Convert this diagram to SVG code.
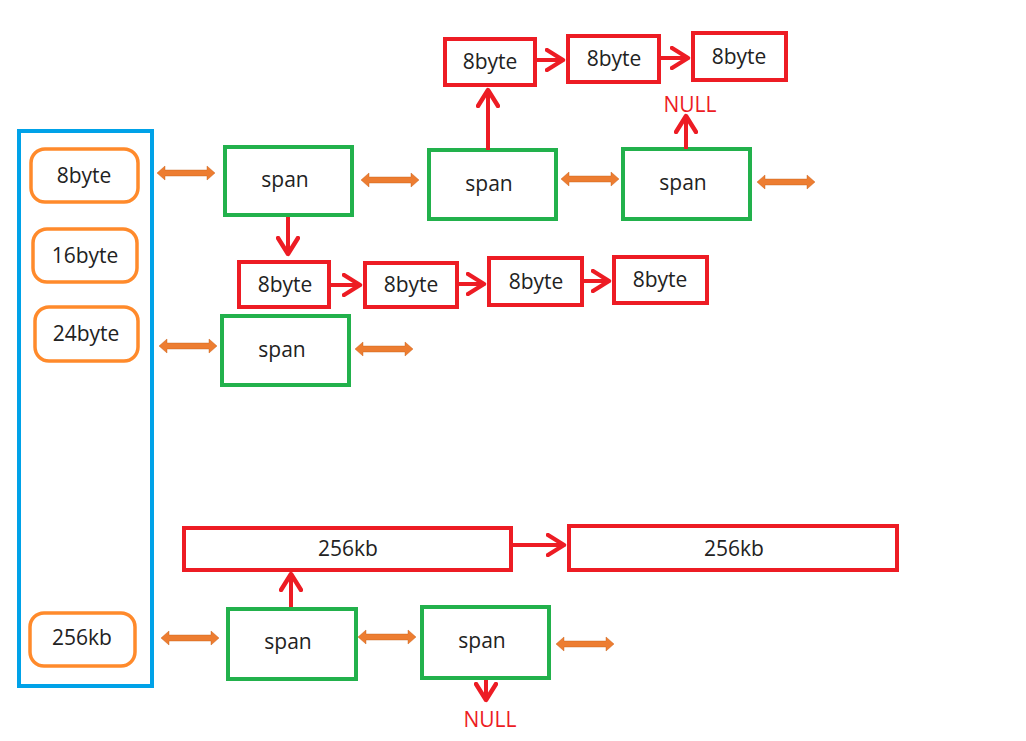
<svg xmlns="http://www.w3.org/2000/svg" width="1026" height="741" viewBox="0 0 1026 741">
<defs>
<style>
text{font-family:"Segoe UI","Open Sans","Noto Sans",sans-serif;font-size:21px;fill:#222;text-anchor:middle;dominant-baseline:central}
.cls{fill:#fff;stroke:#FF8A2B;stroke-width:3.5}
.span{fill:#fff;stroke:#22B14C;stroke-width:4}
.blk{fill:#fff;stroke:#ED1C24;stroke-width:4}
.ra{stroke:#ED1C24;stroke-width:4;fill:none;marker-end:url(#rh)}
.oa{fill:#ED7D31;stroke:#C55A11;stroke-width:0.8;stroke-opacity:0.5}
.null{fill:#ED1C24;font-size:21px}
</style>
<marker id="rh" markerWidth="6" markerHeight="6" refX="4.5" refY="3" orient="auto" markerUnits="strokeWidth"><path d="M0.5,0.5 L4.5,3 L0.5,5.5" fill="none" stroke="#ED1C24" stroke-width="1.1" stroke-linecap="round" stroke-linejoin="round"/></marker>
<polygon id="da" points="0,0 8,-7 8,-3 50,-3 50,-7 58,0 50,7 50,3 8,3 8,7"/>
</defs>
<rect x="19" y="131" width="133" height="555" fill="none" stroke="#00A2E8" stroke-width="4"/>
<g id="c8"><rect class="cls" x="31" y="149" width="107" height="53" rx="14"/><text x="84" y="175">8byte</text></g>
<g id="c16"><rect class="cls" x="33" y="229" width="104" height="53" rx="14"/><text x="85" y="255">16byte</text></g>
<g id="c24"><rect class="cls" x="35" y="307" width="103" height="54" rx="14"/><text x="86" y="333">24byte</text></g>
<g id="c256"><rect class="cls" x="30" y="613" width="105" height="53" rx="14"/><text x="82" y="637">256kb</text></g>
<g id="s1"><rect class="span" x="225" y="147" width="127" height="68"/><text x="285" y="179">span</text></g>
<g id="s2"><rect class="span" x="429" y="150" width="127" height="69"/><text x="489" y="183">span</text></g>
<g id="s3"><rect class="span" x="623" y="149" width="127" height="70"/><text x="683" y="182">span</text></g>
<g id="s4"><rect class="span" x="222" y="316" width="127" height="69"/><text x="282" y="349">span</text></g>
<g id="s5"><rect class="span" x="228" y="609" width="128" height="70"/><text x="288" y="641">span</text></g>
<g id="s6"><rect class="span" x="422" y="607" width="127" height="71"/><text x="482" y="640">span</text></g>
<g id="b1"><rect class="blk" x="239" y="262" width="90" height="45"/><text x="285" y="284">8byte</text></g>
<g id="b2"><rect class="blk" x="365" y="263" width="92" height="44"/><text x="411" y="284">8byte</text></g>
<g id="b3"><rect class="blk" x="489" y="258" width="93" height="47"/><text x="536" y="281">8byte</text></g>
<g id="b4"><rect class="blk" x="614" y="257" width="93" height="46"/><text x="660" y="279">8byte</text></g>
<g id="t1"><rect class="blk" x="445" y="39" width="90" height="46"/><text x="490" y="61">8byte</text></g>
<g id="t2"><rect class="blk" x="568" y="36" width="91" height="46"/><text x="614" y="58">8byte</text></g>
<g id="t3"><rect class="blk" x="693" y="33" width="93" height="47"/><text x="739" y="56">8byte</text></g>
<g id="k1"><rect class="blk" x="184" y="528" width="327" height="42"/><text x="348" y="548">256kb</text></g>
<g id="k2"><rect class="blk" x="569" y="526" width="328" height="44"/><text x="734" y="548">256kb</text></g>
<g id="connectors">
<use href="#da" class="oa" x="157" y="173"/>
<use href="#da" class="oa" x="361" y="180"/>
<use href="#da" class="oa" x="561" y="179"/>
<use href="#da" class="oa" x="757" y="182"/>
<use href="#da" class="oa" x="159" y="346"/>
<use href="#da" class="oa" x="355" y="349"/>
<use href="#da" class="oa" x="161" y="638"/>
<use href="#da" class="oa" x="358" y="637"/>
<use href="#da" class="oa" x="556" y="644"/>
<path class="ra" d="M288,217 V254"/>
<path class="ra" d="M331,285 H360"/>
<path class="ra" d="M459,284 H484"/>
<path class="ra" d="M584,281 H609"/>
<path class="ra" d="M488,150 V90"/>
<path class="ra" d="M537,60 H563"/>
<path class="ra" d="M661,58 H688"/>
<path class="ra" d="M686,149 V116"/>
<path class="ra" d="M291,607 V574"/>
<path class="ra" d="M513,545 H564"/>
<path class="ra" d="M486,680 V700"/>
</g>
<text class="null" x="690" y="104">NULL</text>
<text class="null" x="490" y="719">NULL</text>
</svg>
